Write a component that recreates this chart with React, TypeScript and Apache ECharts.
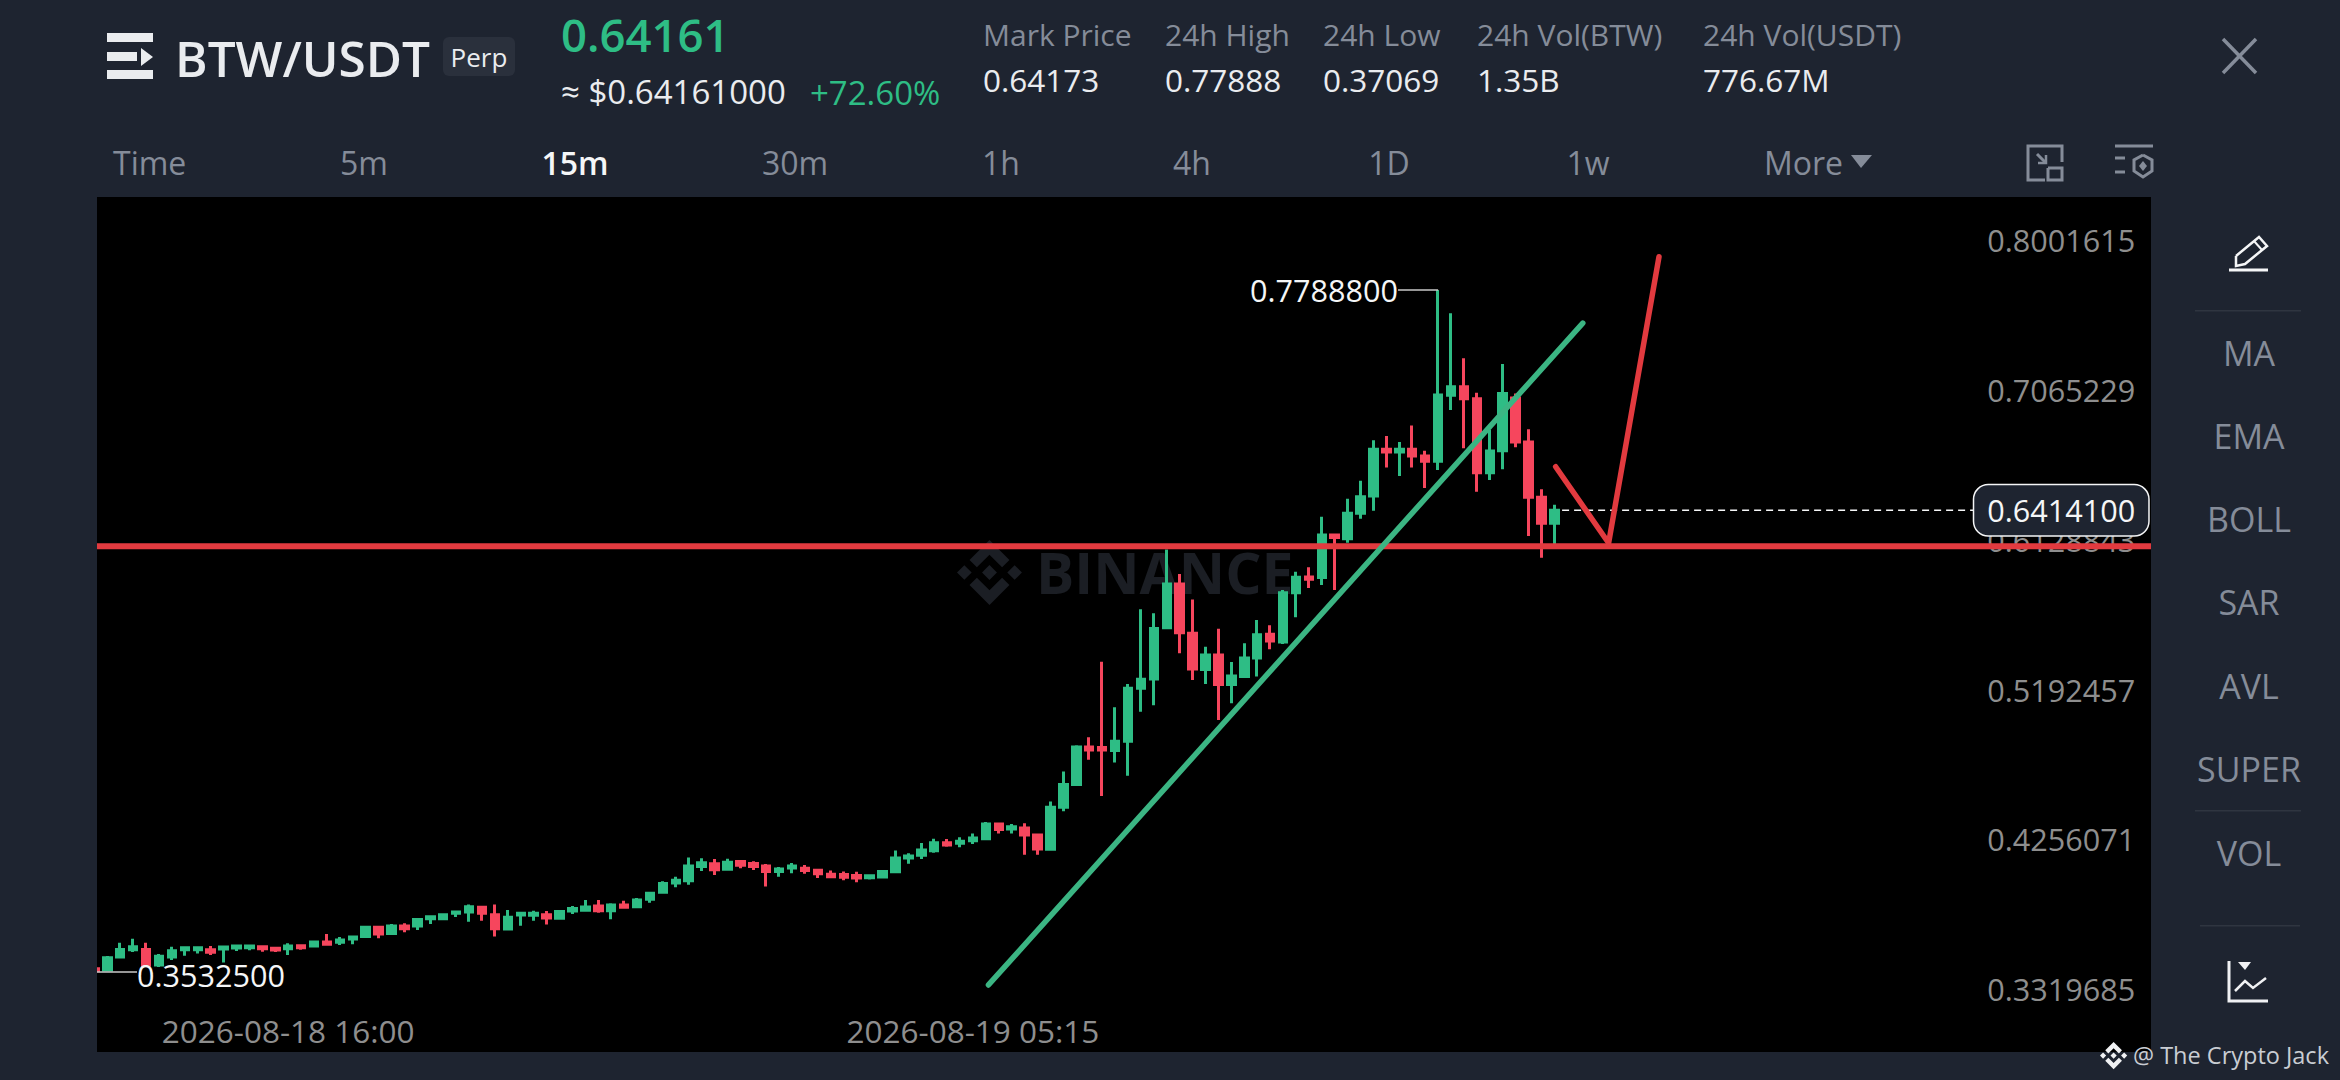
import React, { useEffect, useRef } from "react";
import * as echarts from "echarts";

const FONT = "'Open Sans', 'Noto Sans', sans-serif";
const GREEN = "#2EBD85";
const RED = "#F6465D";
const GRAY = "#858C99";
const PANEL = "#1E2430";

const yTicks = [0.8001615, 0.7065229, 0.6128843, 0.5192457, 0.4256071, 0.3319685];
const timeLabels = ["2026-08-18 16:00", "2026-08-19 05:15"];
const lastPrice = 0.64141;
const highPrice = 0.77888;
const lowPrice = 0.35325;

// open, close, low, high for each 15m bar, the first one is cut by the left edge
const candleValues = [
  [0.3552, 0.354, 0.3533, 0.356],
  [0.3544, 0.3621, 0.354, 0.3632], [0.3625, 0.3673, 0.3623, 0.3715], [0.3671, 0.369, 0.3657, 0.374], [0.3673, 0.3574, 0.3565, 0.3715],
  [0.3576, 0.363, 0.3563, 0.3644], [0.3625, 0.3665, 0.3607, 0.369], [0.3671, 0.3684, 0.3634, 0.3686], [0.3671, 0.3684, 0.3648, 0.3686],
  [0.3671, 0.3655, 0.3638, 0.3694], [0.3675, 0.3688, 0.3592, 0.3694], [0.3682, 0.3694, 0.3663, 0.3698], [0.3684, 0.3694, 0.3667, 0.3698],
  [0.369, 0.3677, 0.3659, 0.3696], [0.368, 0.3669, 0.3657, 0.3686], [0.3677, 0.3694, 0.3638, 0.3711], [0.3696, 0.3684, 0.3671, 0.37],
  [0.3694, 0.3719, 0.369, 0.3724], [0.3719, 0.3705, 0.3698, 0.3769], [0.3717, 0.3732, 0.37, 0.375], [0.3738, 0.375, 0.3705, 0.3753],
  [0.3753, 0.3811, 0.3746, 0.3815], [0.3811, 0.3769, 0.3742, 0.3815], [0.3773, 0.3819, 0.3769, 0.3832], [0.3819, 0.3802, 0.378, 0.3836],
  [0.3819, 0.3859, 0.3794, 0.3867], [0.3865, 0.3877, 0.3832, 0.3882], [0.3865, 0.389, 0.3857, 0.3894], [0.3898, 0.3907, 0.3875, 0.3911],
  [0.3907, 0.394, 0.3846, 0.3954], [0.3936, 0.3898, 0.3852, 0.3944], [0.389, 0.3802, 0.3753, 0.3954], [0.38, 0.3873, 0.3796, 0.3919],
  [0.3888, 0.3898, 0.3821, 0.3907], [0.3886, 0.3898, 0.3852, 0.3915], [0.389, 0.3869, 0.3829, 0.3913], [0.3867, 0.3909, 0.3861, 0.3915],
  [0.3913, 0.3929, 0.3894, 0.3944], [0.3917, 0.3938, 0.3913, 0.3981], [0.3944, 0.3915, 0.3902, 0.3981], [0.3915, 0.395, 0.3861, 0.3961],
  [0.395, 0.3936, 0.3932, 0.3977], [0.394, 0.3981, 0.3932, 0.3994], [0.3986, 0.4023, 0.3965, 0.4027], [0.4029, 0.4085, 0.4025, 0.4098],
  [0.4087, 0.4105, 0.4061, 0.4127], [0.4102, 0.4194, 0.4077, 0.4246], [0.419, 0.4214, 0.4162, 0.4242], [0.4208, 0.4171, 0.4137, 0.4237],
  [0.4173, 0.4217, 0.4169, 0.4239], [0.4221, 0.4198, 0.4179, 0.4231], [0.421, 0.419, 0.4169, 0.4223], [0.4194, 0.416, 0.4065, 0.4206],
  [0.416, 0.4175, 0.4127, 0.4187], [0.4181, 0.4194, 0.4148, 0.4212], [0.4179, 0.4165, 0.4146, 0.42], [0.4167, 0.4146, 0.4119, 0.4169],
  [0.4142, 0.4127, 0.4123, 0.4165], [0.414, 0.4123, 0.4105, 0.416], [0.4135, 0.4119, 0.4092, 0.4158], [0.4121, 0.4133, 0.411, 0.414],
  [0.4125, 0.416, 0.4123, 0.4162], [0.4158, 0.4244, 0.415, 0.4291], [0.4244, 0.4256, 0.4208, 0.4273], [0.426, 0.4293, 0.4237, 0.4337],
  [0.4289, 0.4339, 0.4277, 0.4364], [0.4339, 0.4325, 0.4314, 0.4362], [0.4335, 0.4348, 0.431, 0.4373], [0.4352, 0.4368, 0.4331, 0.4397],
  [0.4364, 0.4456, 0.4358, 0.4468], [0.4456, 0.4422, 0.4397, 0.4464], [0.4424, 0.4439, 0.4397, 0.4456], [0.4431, 0.4387, 0.4264, 0.446],
  [0.4387, 0.43, 0.4264, 0.4393], [0.4298, 0.456, 0.4293, 0.4597], [0.456, 0.4703, 0.4535, 0.4784], [0.4703, 0.4936, 0.4693, 0.4947],
  [0.4936, 0.4918, 0.4857, 0.4997], [0.4934, 0.4918, 0.463, 0.5469], [0.4914, 0.4972, 0.4839, 0.5184], [0.4972, 0.5303, 0.4757, 0.533],
  [0.5303, 0.5359, 0.5157, 0.5796], [0.5361, 0.5677, 0.5197, 0.5771], [0.5681, 0.5954, 0.5671, 0.617], [0.5954, 0.565, 0.5521, 0.6016],
  [0.5646, 0.5423, 0.5355, 0.5858], [0.5421, 0.5511, 0.533, 0.5563], [0.5511, 0.5326, 0.5105, 0.5675], [0.5326, 0.538, 0.5209, 0.5467],
  [0.5376, 0.5492, 0.5371, 0.5584], [0.5492, 0.5638, 0.5376, 0.5729], [0.564, 0.5598, 0.5546, 0.5696], [0.5592, 0.59, 0.5579, 0.5917],
  [0.59, 0.5996, 0.5746, 0.6031], [0.5998, 0.5983, 0.5929, 0.6058], [0.5994, 0.626, 0.5948, 0.6374], [0.626, 0.6245, 0.5917, 0.6264],
  [0.6237, 0.6395, 0.6212, 0.6487], [0.6395, 0.6499, 0.6362, 0.6599], [0.6503, 0.6795, 0.6412, 0.6851], [0.6795, 0.6778, 0.6682, 0.6878],
  [0.6778, 0.6795, 0.6628, 0.684], [0.6795, 0.6753, 0.6682, 0.6944], [0.6753, 0.672, 0.6553, 0.6786], [0.672, 0.7134, 0.6666, 0.77888],
  [0.7132, 0.7186, 0.704, 0.7644], [0.7186, 0.7111, 0.6801, 0.7363], [0.7111, 0.6649, 0.653, 0.7148], [0.6649, 0.6784, 0.6603, 0.6915],
  [0.6786, 0.7144, 0.667, 0.7327], [0.7115, 0.684, 0.6807, 0.7144], [0.684, 0.6495, 0.6254, 0.692], [0.6495, 0.6333, 0.6118, 0.6545],
  [0.6333, 0.64141, 0.6183, 0.6449],
];

// drawn lines as [bar index, price]
const supportLine = [[0.2, 0.619], [159.2, 0.619]];
const trendLine = [[69.2, 0.3451], [115.2, 0.7583]];
const projectionLine = [[113.1, 0.6686], [117.2, 0.621], [121.1, 0.7997]];
const priceLine = [[113.6, lastPrice], [145.5, lastPrice]];
const highConnector = [[104, highPrice], [100.9, highPrice]];
const lowConnector = [[0.2, lowPrice], [3.3, lowPrice]];

const tabLabels = ["5m", "15m", "30m", "1h", "4h", "1D", "1w"];
const sideLabels = ["MA", "EMA", "BOLL", "SAR", "AVL", "SUPER", "VOL"];
const statLabels = ["Mark Price", "24h High", "24h Low", "24h Vol(BTW)", "24h Vol(USDT)"];
const statValues = ["0.64173", "0.77888", "0.37069", "1.35B", "776.67M"];

const barCount = 160;
const categories = Array.from({ length: barCount }, (_, i) => {
  const d = new Date(Date.UTC(2026, 7, 18, 12, 15) + i * 900000);
  const p = (n: number) => String(n).padStart(2, "0");
  return `${d.getUTCFullYear()}-${p(d.getUTCMonth() + 1)}-${p(d.getUTCDate())} ${p(d.getUTCHours())}:${p(d.getUTCMinutes())}`;
});

const LOGO =
  "M38.73 53.2l24.59-24.58 24.6 24.6 14.3-14.31L63.32 0 24.43 38.9zM0 63.31l14.3-14.31 14.31 14.31-14.31 14.3zM38.73 73.41l24.59 24.59 24.6-24.6 14.31 14.29-38.9 38.91-38.91-38.88-.02-.02zM98 63.31l14.31-14.31 14.3 14.31-14.31 14.3zM77.83 63.3L63.32 48.78 52.59 59.51l-1.24 1.23-2.54 2.54 14.51 14.5 14.51-14.47z";
echarts.graphic.registerShape("binanceLogo", echarts.graphic.extendPath(LOGO, {}) as any);

const txt = (text: string, x: number, y: number, fontSize: number, fill: string, align = "left", fontWeight: any = 400, z = 110) => ({
  type: "text",
  z,
  style: { text, x, y, fontSize, fill, align, verticalAlign: "middle", fontFamily: FONT, fontWeight },
});
const rect = (x: number, y: number, width: number, height: number, fill: string, r = 0, z = 105) => ({
  type: "rect",
  z,
  shape: { x, y, width, height, r },
  style: { fill },
});
const stroke = (points: number[][], color: string, lineWidth = 3, z = 110) => ({
  type: "polyline",
  z,
  shape: { points },
  style: { stroke: color, lineWidth, fill: "none" },
});

function buildGraphics() {
  const statX = [983, 1165, 1323, 1477, 1703];
  const tabX = [364, 575, 795, 1001, 1192, 1389, 1588];
  const sideY = [353, 436, 519, 602, 686, 769, 853];
  const els: any[] = [
    // panels that frame the plot
    rect(0, 197, 97, 855, PANEL),
    rect(2151, 197, 189, 855, PANEL),
    // watermark behind the candles
    { type: "binanceLogo", z: 1, x: 957, y: 540, scaleX: 0.513, scaleY: 0.513, style: { fill: "#1B1E24" } },
    txt("BINANCE", 1036, 572, 57, "#1B1E24", "left", 700, 1),
    // header icon
    rect(107, 33, 46, 9, "#EAECEF", 0, 110),
    rect(107, 52, 30, 9, "#EAECEF", 0, 110),
    { type: "polygon", z: 110, shape: { points: [[141, 48], [153, 57], [141, 66]] }, style: { fill: "#EAECEF" } },
    rect(107, 70, 46, 9, "#EAECEF", 0, 110),
    txt("BTW/USDT", 175, 58, 49.5, "#EAECEF", "left", 600),
    rect(443, 37, 72, 39, "#2A303C", 6, 105),
    txt("Perp", 479, 57, 26, "#EAECEF", "center"),
    txt("0.64161", 561, 34, 45.5, GREEN, "left", 600),
    txt("≈ $0.64161000", 561, 91, 33, "#EAECEF", "left", 500),
    txt("+72.60%", 810, 92, 33, GREEN),
    txt("Time", 113, 162, 32, GRAY),
    txt("More", 1764, 162, 32, GRAY),
    { type: "polygon", z: 110, shape: { points: [[1851, 155], [1872, 155], [1861, 168]] }, style: { fill: GRAY } },
    // close
    stroke([[2223, 39], [2256, 73]], GRAY, 3.5),
    stroke([[2256, 39], [2223, 73]], GRAY, 3.5),
    // toolbar icons
    stroke([[2045, 180], [2028, 180], [2028, 146], [2062, 146], [2062, 162]], GRAY, 3),
    stroke([[2048, 168], [2062, 168], [2062, 180], [2048, 180], [2048, 168]], GRAY, 3),
    stroke([[2037, 154], [2046, 163]], GRAY, 3),
    stroke([[2046, 155], [2046, 163], [2038, 163]], GRAY, 2.5),
    stroke([[2115, 146], [2153, 146]], GRAY, 3),
    stroke([[2115, 158], [2125, 158]], GRAY, 3),
    stroke([[2115, 172], [2125, 172]], GRAY, 3),
    stroke([[2143, 155], [2152, 160], [2152, 171], [2143, 177], [2134, 171], [2134, 160], [2143, 155]], GRAY, 3),
    { type: "polygon", z: 110, shape: { points: [[2143, 161], [2147, 166], [2143, 171], [2139, 166]] }, style: { fill: GRAY } },
    // pencil
    stroke([[2236, 256], [2259, 237], [2267, 246], [2245, 264], [2236, 266], [2236, 256]], "#F5F6F7", 2.5),
    stroke([[2254, 241], [2262, 250]], "#F5F6F7", 2),
    stroke([[2229, 270], [2268, 270]], "#F5F6F7", 3),
    // side dividers
    rect(2195, 310, 106, 1.5, "#2F3540"),
    rect(2195, 810, 106, 1.5, "#2F3540"),
    rect(2200, 925, 100, 1.5, "#2F3540"),
    // chart icon
    stroke([[2229, 961], [2229, 1001], [2268, 1001]], "#F0F1F3", 3),
    stroke([[2235, 991], [2245, 981], [2253, 988], [2266, 978]], "#F0F1F3", 2.5),
    { type: "polygon", z: 110, shape: { points: [[2238, 962], [2251, 962], [2245, 970]] }, style: { fill: "#F0F1F3" } },
    // credit
    { type: "binanceLogo", z: 110, x: 2100, y: 1042, scaleX: 0.215, scaleY: 0.215, style: { fill: "#F0F1F3" } },
    txt("@ The Crypto Jack", 2133, 1055, 23.5, "#C9CDD3"),
  ];
  statLabels.forEach((t, i) => els.push(txt(t, statX[i], 34, 30, GRAY)));
  statValues.forEach((t, i) => els.push(txt(t, statX[i], 79, 31.5, "#EAECEF", "left", 500)));
  tabLabels.forEach((t, i) =>
    els.push(txt(t, tabX[i], 162, 32, t === "15m" ? "#F5F6F7" : GRAY, "center", t === "15m" ? 600 : 400))
  );
  sideLabels.forEach((t, i) => els.push(txt(t, 2249, sideY[i], 34, GRAY, "center")));
  return els;
}

const drawnLine = (data: number[][], color: string, width: number, z: number) => ({
  type: "line",
  xAxisIndex: 1,
  yAxisIndex: 0,
  data,
  z,
  symbol: "none",
  silent: true,
  lineStyle: { color, width, cap: "round", join: "round" },
});

const markerLabel = (text: string, position: string, offset: number[]) => ({
  show: true,
  position,
  distance: 0,
  offset,
  formatter: text,
  color: "#F5F6F7",
  fontSize: 30.6,
  fontFamily: FONT,
});

export default function App() {
  const ref = useRef<HTMLDivElement>(null);
  useEffect(() => {
    document.body.style.margin = "0";
    const chart = echarts.init(ref.current!, undefined, { renderer: "svg" });
    chart.setOption({
      animation: false,
      backgroundColor: PANEL,
      grid: {
        show: true,
        left: 87.94,
        top: 197,
        width: barCount * 12.92,
        height: 855,
        backgroundColor: "#000000",
        borderWidth: 0,
      },
      xAxis: [
        {
          type: "category",
          data: categories,
          axisLine: { show: false },
          axisTick: { show: false },
          splitLine: { show: false },
          axisLabel: {
            inside: true,
            margin: 6,
            interval: (_: number, v: string) => timeLabels.includes(v),
            color: "#8E8E8E",
            fontSize: 31.5,
            fontFamily: FONT,
            hideOverlap: false,
          },
        },
        { type: "value", min: -0.5, max: barCount - 0.5, show: false },
      ],
      yAxis: {
        type: "value",
        position: "right",
        min: 0.30325,
        max: 0.837,
        scale: true,
        axisLine: { show: false },
        axisTick: { show: false },
        splitLine: { show: false },
        axisLabel: {
          inside: true,
          margin: 20,
          customValues: yTicks,
          formatter: (v: number) => v.toFixed(7),
          verticalAlign: "bottom",
          lineHeight: 33,
          color: "#8E8E8E",
          fontSize: 30.6,
          fontFamily: FONT,
        },
      },
      series: [
        {
          type: "candlestick",
          xAxisIndex: 0,
          yAxisIndex: 0,
          data: candleValues,
          barWidth: 8,
          z: 2,
          itemStyle: { color: GREEN, color0: RED, borderColor: GREEN, borderColor0: RED, borderWidth: 3 },
        },
        {
          type: "line",
          xAxisIndex: 1,
          yAxisIndex: 0,
          z: 3,
          symbol: "circle",
          symbolSize: 0,
          showSymbol: true,
          showAllSymbol: true,
          lineStyle: { color: "#F5F6F7", width: 1.5, type: [7, 5] },
          data: [priceLine[0], {
            value: priceLine[1],
            label: {
              show: true,
              position: "right",
              distance: 0,
              formatter: lastPrice.toFixed(7),
              color: "#F5F6F7",
              fontSize: 30.6,
              lineHeight: 30,
              fontFamily: FONT,
              backgroundColor: PANEL,
              borderColor: "#F5F6F7",
              borderWidth: 1.5,
              borderRadius: 14,
              padding: [10, 13],
            },
          }],
        },
        {
          type: "line",
          xAxisIndex: 1,
          yAxisIndex: 0,
          z: 3,
          symbol: "circle",
          symbolSize: 0,
          showSymbol: true,
          showAllSymbol: true,
          lineStyle: { color: "#C8C8C8", width: 1.5 },
          data: [highConnector[0], { value: highConnector[1], label: markerLabel(highPrice.toFixed(7), "left", [0, 0]) }],
        },
        {
          type: "line",
          xAxisIndex: 1,
          yAxisIndex: 0,
          z: 3,
          symbol: "circle",
          symbolSize: 0,
          showSymbol: true,
          showAllSymbol: true,
          lineStyle: { color: "#C8C8C8", width: 1.5 },
          data: [lowConnector[0], { value: lowConnector[1], label: markerLabel(lowPrice.toFixed(7), "right", [0, 3]) }],
        },
        drawnLine(supportLine, "#E23A3F", 6, 4),
        drawnLine(trendLine, "#3BB583", 5.5, 5),
        drawnLine(projectionLine, "#E23A3F", 5.5, 6),
      ],
      graphic: buildGraphics(),
    });
    return () => chart.dispose();
  }, []);
  return <div ref={ref} style={{ position: "fixed", left: 0, top: 0, width: 2340, height: 1080 }} />;
}
